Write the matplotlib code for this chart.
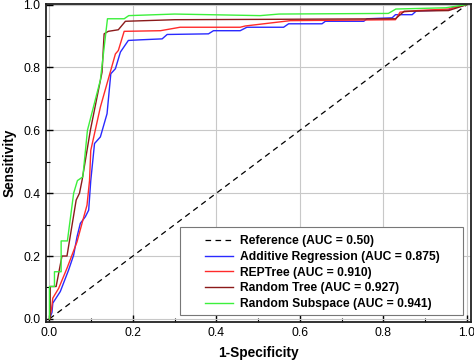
import matplotlib
matplotlib.use('Agg')
import matplotlib.pyplot as plt
from matplotlib.patches import Rectangle
from matplotlib.ticker import MultipleLocator

plt.rcParams['font.family'] = ['Liberation Sans', 'DejaVu Sans']

# ROC curves (1-specificity, sensitivity)
ref_x = [0.0, 1.0]
ref_y = [0.0, 1.0]

add_reg_x = [0.0, 0.006, 0.008, 0.026, 0.046, 0.058, 0.066, 0.074, 0.086, 0.094, 0.099,
             0.108, 0.122, 0.138, 0.147, 0.158, 0.17, 0.189, 0.218, 0.27, 0.282, 0.381,
             0.393, 0.457, 0.473, 0.561, 0.573, 0.653, 0.661, 0.753, 0.761, 0.821, 0.829,
             0.869, 0.879, 0.956, 0.965, 1.0]
add_reg_y = [0.0, 0.02, 0.05, 0.087, 0.156, 0.203, 0.261, 0.304, 0.325, 0.346, 0.44,
             0.558, 0.579, 0.653, 0.78, 0.796, 0.849, 0.886, 0.888, 0.891, 0.905, 0.907,
             0.917, 0.917, 0.928, 0.928, 0.939, 0.939, 0.947, 0.947, 0.955, 0.958, 0.968,
             0.968, 0.98, 0.983, 0.99, 1.0]

reptree_x = [0.0, 0.005, 0.008, 0.022, 0.042, 0.066, 0.078, 0.09, 0.096, 0.099, 0.122,
             0.158, 0.165, 0.179, 0.266, 0.313, 0.457, 0.469, 0.577, 0.829, 0.84, 0.881,
             0.956, 1.0]
reptree_y = [0.0, 0.03, 0.066, 0.097, 0.161, 0.245, 0.304, 0.362, 0.44, 0.536, 0.674,
             0.843, 0.854, 0.915, 0.917, 0.928, 0.928, 0.932, 0.949, 0.952, 0.976, 0.981,
             0.986, 1.0]

rtree_x = [0.0, 0.002, 0.002, 0.016, 0.03, 0.042, 0.064, 0.072, 0.078, 0.098, 0.126,
           0.131, 0.141, 0.165, 0.182, 0.3, 0.5, 0.829, 0.85, 0.956, 1.0]
rtree_y = [0.0, 0.0, 0.103, 0.103, 0.2, 0.2, 0.378, 0.4, 0.44, 0.6, 0.785,
           0.907, 0.915, 0.92, 0.947, 0.952, 0.953, 0.955, 0.979, 0.981, 1.0]

rsub_x = [0.0, 0.0, 0.012, 0.012, 0.028, 0.028, 0.043, 0.058, 0.067, 0.08, 0.091,
          0.122, 0.139, 0.179, 0.19, 0.3, 0.505, 0.55, 0.812, 0.83, 0.95, 1.0]
rsub_y = [0.0, 0.103, 0.103, 0.15, 0.15, 0.248, 0.248, 0.4, 0.44, 0.452, 0.6,
          0.76, 0.955, 0.955, 0.965, 0.97, 0.965, 0.97, 0.972, 0.986, 0.99, 1.0]

labels = ['Reference (AUC = 0.50)',
          'Additive Regression (AUC = 0.875)',
          'REPTree (AUC = 0.910)',
          'Random Tree (AUC = 0.927)',
          'Random Subspace (AUC = 0.941)']

fig = plt.figure(figsize=(4.74, 3.63), dpi=100)
ax = fig.add_axes([0.0964, 0.1138, 0.8973, 0.8752])

ax.plot(ref_x, ref_y, color='black', lw=0.9, ls=(0, (4.5, 3.5)), label=labels[0])
ax.plot(add_reg_x, add_reg_y, color='#2a2aff', lw=1.0, label=labels[1])
ax.plot(reptree_x, reptree_y, color='#ff2a2a', lw=1.0, label=labels[2])
ax.plot(rtree_x, rtree_y, color='#8b1a1a', lw=1.0, label=labels[3])
ax.plot(rsub_x, rsub_y, color='#3cf03c', lw=1.0, label=labels[4])

ax.set_xlim(-0.009, 1.01)
ax.set_ylim(-0.009, 1.002)
ax.xaxis.set_major_locator(MultipleLocator(0.2))
ax.xaxis.set_minor_locator(MultipleLocator(0.1))
ax.yaxis.set_major_locator(MultipleLocator(0.2))
ax.yaxis.set_minor_locator(MultipleLocator(0.1))
ax.xaxis.set_major_formatter(plt.FormatStrFormatter('%.1f'))
ax.yaxis.set_major_formatter(plt.FormatStrFormatter('%.1f'))
ax.tick_params(which='major', direction='in', length=5, width=1.0, labelsize=8.8, pad=4)
ax.tick_params(which='minor', direction='in', length=3, width=0.8)
ax.grid(True, which='major', color='#c8c8c8', lw=0.8)
ax.set_axisbelow(True)
for sp in ax.spines.values():
    sp.set_linewidth(1.3)
    sp.set_color('#222222')

ax.set_xlabel('1-Specificity', fontsize=9.8, fontweight='bold', labelpad=5)
ax.set_ylabel('Sensitivity', fontsize=9.8, fontweight='bold', labelpad=5)

# legend box drawn separately so its padding matches the reference
ax.add_patch(Rectangle((0.316, 0.021), 0.665, 0.277, transform=ax.transAxes,
                       facecolor='white', edgecolor='#777777', lw=0.8, zorder=4))
leg = ax.legend(loc='upper left', bbox_to_anchor=(0.375, 0.272), borderaxespad=0,
                prop={'size': 8.7, 'weight': 'bold'}, frameon=False,
                handlelength=2.3, handletextpad=0.55, labelspacing=0.3, borderpad=0)
leg.set_zorder(5)

fig.savefig('out.png', dpi=100)
